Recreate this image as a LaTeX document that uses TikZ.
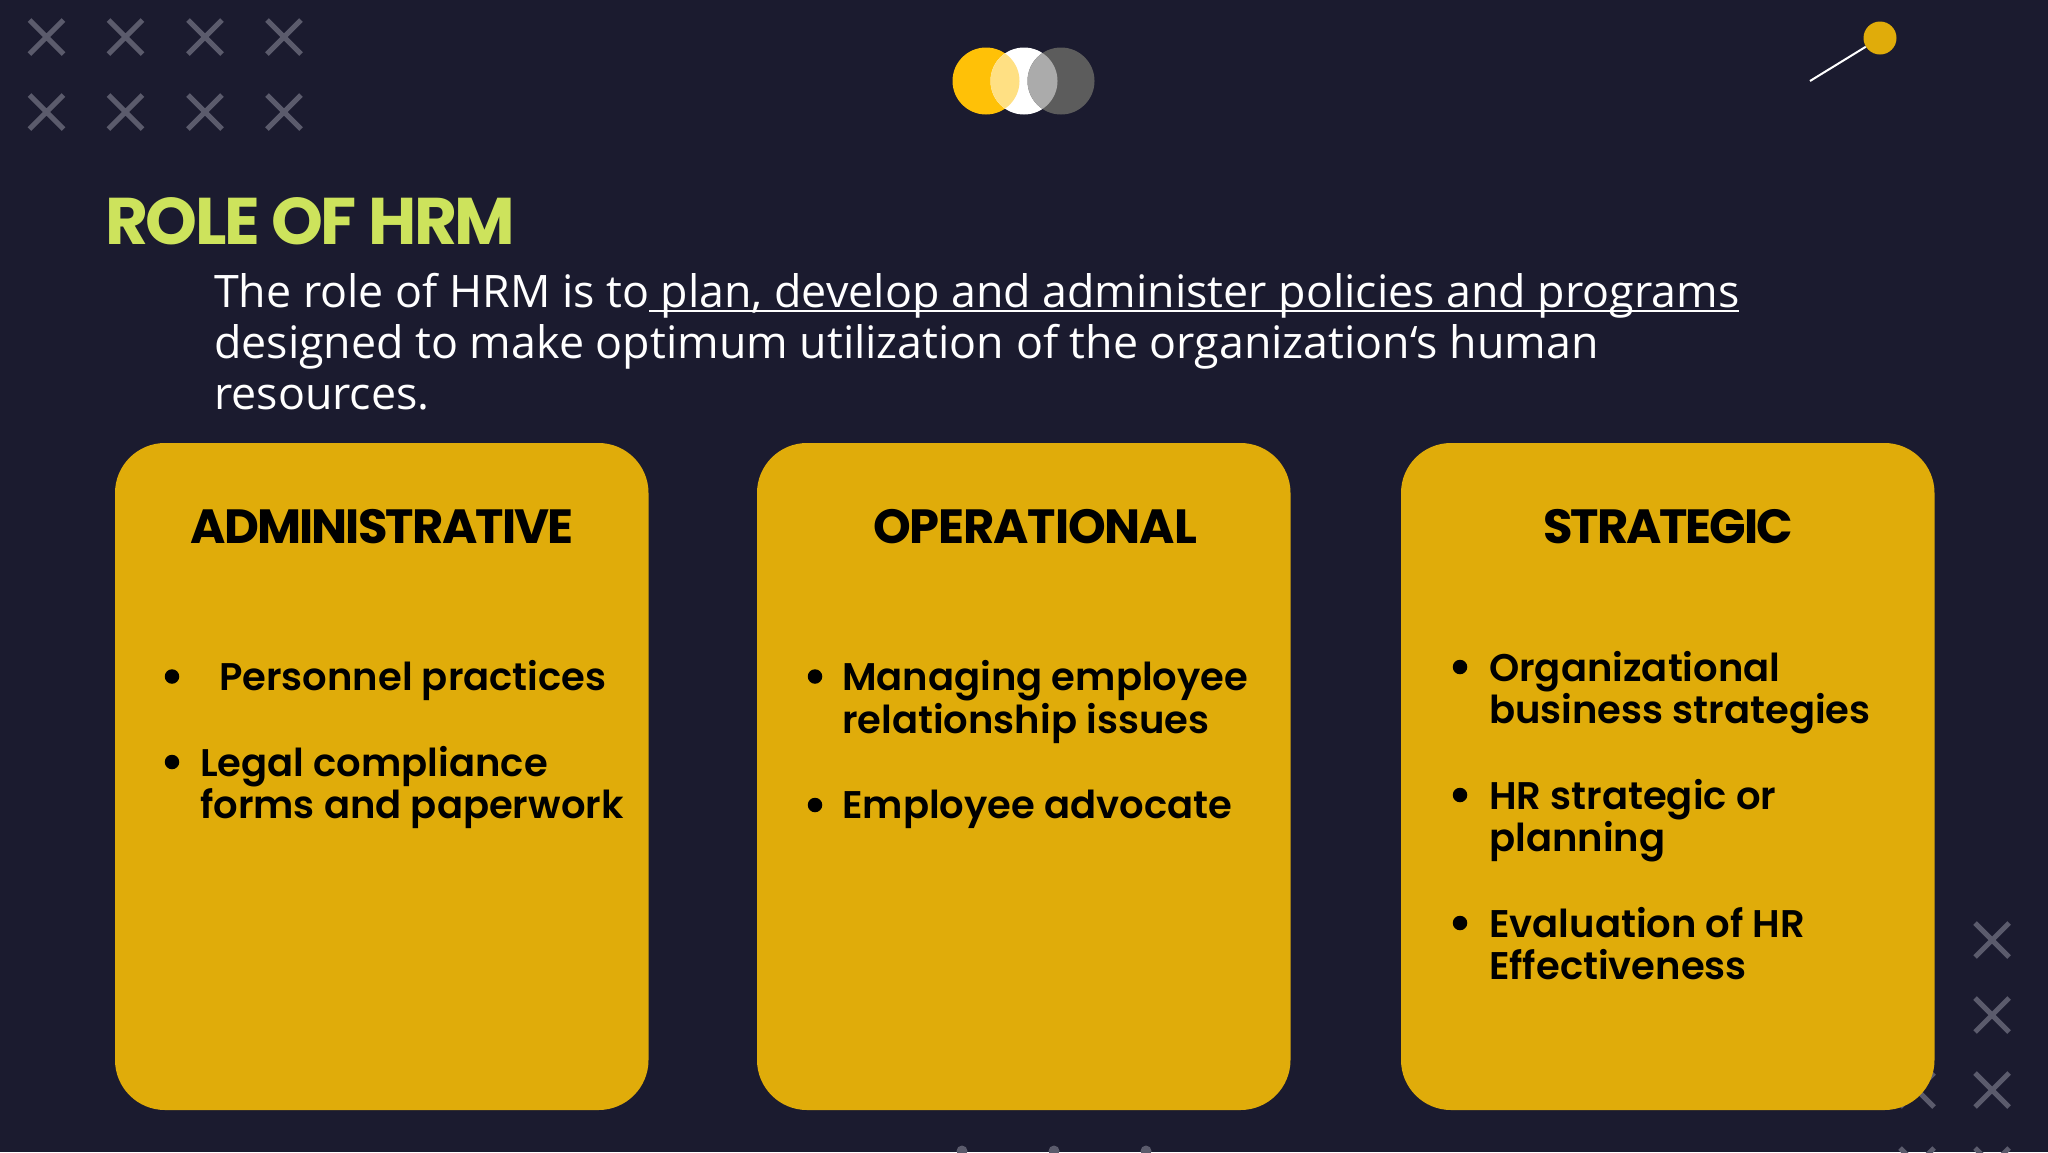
\documentclass[tikz,border=0pt]{standalone}
\usepackage{fontspec}
\setmainfont{Open Sans}
\newfontfamily\popb{Poppins}[UprightFont=*-SemiBold,BoldFont=*-Bold]
\newfontfamily\poph{Poppins}[UprightFont=*-Bold,BoldFont=*-Bold,LetterSpace=-3.8]
\newfontfamily\pophb{Poppins}[UprightFont=*-Bold,BoldFont=*-Bold,LetterSpace=-2.3]
\newfontfamily\pophc{Poppins}[UprightFont=*-Bold,BoldFont=*-Bold,LetterSpace=-4.4]
\newfontfamily\opens{Open Sans}
\definecolor{bgc}{HTML}{1B1B2F}
\definecolor{gold}{HTML}{E0AC0A}
\definecolor{lime}{HTML}{CDE35C}
\definecolor{crossc}{HTML}{5B5B6C}
\definecolor{logoy}{HTML}{FFC107}
\definecolor{logog}{HTML}{5C5C5C}
\newsavebox{\ulbox}
\newcommand{\ulin}[1]{\sbox{\ulbox}{#1}\rlap{\rule[-5pt]{\wd\ulbox}{2pt}}\usebox{\ulbox}}
\begin{document}
\begin{tikzpicture}[x=1pt,y=-1pt,
  card/.style={fill=gold,rounded corners=50pt},
  crossmark/.style={draw=crossc,line width=5pt},
  bodytext/.style={anchor=base west,inner sep=0pt,text=white,font=\opens\fontsize{44.75}{51}\selectfont},
  cardtext/.style={anchor=base west,inner sep=0pt,text=black,font=\popb\fontsize{38.5}{42}\selectfont},
  head/.style={anchor=base,inner sep=0pt,text=black},
  dotmark/.style={circle,fill=black,inner sep=0pt,minimum size=14.5pt}]
\fill[bgc] (0,0) rectangle (2048,1152);
\useasboundingbox (0,0) rectangle (2048,1152);
% crosses
\foreach \cx/\cy in {46.5/37,125.5/37,205/37,284/37,46.5/112,125.5/112,205/112,284/112,
  1992/940,1992/1015,1992/1090,1917/1090,1992/1165,1917/1165}{
  \draw[crossmark] (\cx-17,\cy-17) -- (\cx+17,\cy+17) (\cx-17,\cy+17) -- (\cx+17,\cy-17);
}
% bottom dots
\foreach \dx in {962,1054,1146}{\fill[crossc] (\dx,1151) circle (5.5);}
% logo
\fill[logoy] (986,81) circle (33.5);
\fill[white] (1024,81) circle (33.5);
\fill[logog] (1061,81) circle (33.5);
\begin{scope}\clip (986,81) circle (33.5);\fill[logoy!50!white] (1024,81) circle (33.5);\end{scope}
\begin{scope}\clip (1061,81) circle (33.5);\fill[black!33] (1024,81) circle (33.5);\end{scope}
% pin
\node[circle,fill=gold,inner sep=0pt,minimum size=33pt] (pin) at (1880,38) {};
\coordinate (pinend) at (1810,81);
\draw[white,line width=2pt] (pinend) -- (pin);
% title and body
\node[anchor=base west,inner sep=0pt,text=lime,font=\poph\fontsize{66}{68}\selectfont] (title) at (105,244) {ROLE OF HRM};
\node[bodytext] (l1) at (214,307) {The role of HRM is to\ulin{ plan, develop and administer policies and programs}};
\node[bodytext] (l2) at (214,358) {designed to make optimum utilization of the organization‘s human};
\node[bodytext] (l3) at (214,409) {resources.};
% cards
\fill[card] (115,443) rectangle (648.5,1110);
\fill[card] (757,443) rectangle (1290.5,1110);
\fill[card] (1401,443) rectangle (1934.5,1110);
\node[head,font=\poph\fontsize{48}{50}\selectfont] (h1) at (382,543) {ADMINISTRATIVE};
\node[head,font=\pophb\fontsize{48}{50}\selectfont] (h2) at (1035,543) {OPERATIONAL};
\node[head,font=\pophc\fontsize{48}{50}\selectfont] (h3) at (1668,543) {STRATEGIC};
% card 1
\node[dotmark] (b11) at (172,676.5) {};
\node[cardtext] (t11) at (219,690) {Personnel practices};
\node[dotmark] (b12) at (172,762) {};
\node[cardtext] (t12) at (200,776) {Legal compliance};
\node[cardtext] (t13) at (200,818) {forms and paperwork};
% card 2
\node[dotmark] (b21) at (815,676.5) {};
\node[cardtext] (t21) at (842,690) {Managing employee};
\node[cardtext] (t22) at (842,733) {relationship issues};
\node[dotmark] (b22) at (815,805) {};
\node[cardtext] (t23) at (842,818) {Employee advocate};
% card 3
\node[dotmark] (b31) at (1460,667) {};
\node[cardtext] (t31) at (1489,681) {Organizational};
\node[cardtext] (t32) at (1489,723) {business strategies};
\node[dotmark] (b32) at (1460,795) {};
\node[cardtext] (t33) at (1489,809) {HR strategic or};
\node[cardtext] (t34) at (1489,851) {planning};
\node[dotmark] (b33) at (1460,923) {};
\node[cardtext] (t35) at (1489,937) {Evaluation of HR};
\node[cardtext] (t36) at (1489,979) {Effectiveness};
\end{tikzpicture}
\end{document}
